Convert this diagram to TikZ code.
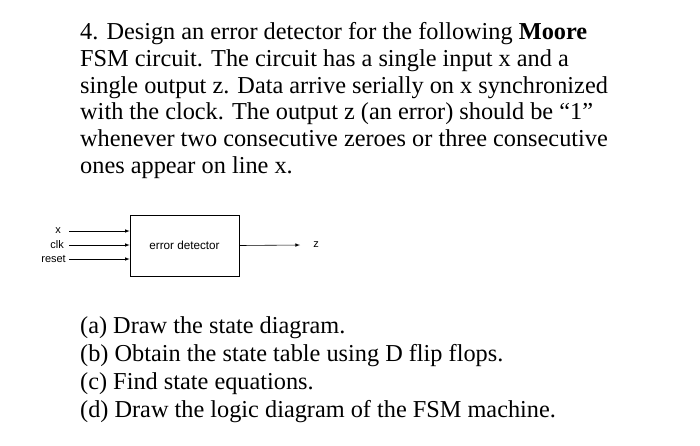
\documentclass[tikz,border=0pt]{standalone}
\usepackage{fontspec}
\setmainfont{Liberation Serif}
\newfontfamily\sans{Liberation Sans}
\begin{document}
\begin{tikzpicture}[x=1pt,y=-1pt,
  para/.style={anchor=base west,inner sep=0pt,font=\fontsize{24.3}{28}\selectfont},
  lab/.style={font=\sans\fontsize{11}{13}\selectfont,inner sep=0pt},
  sig/.style={-latex,line width=0.6pt}]
\useasboundingbox (0,0) rectangle (700,445);
\node[para] (l1) at (80,39) {4. Design an error detector for the following \textbf{Moore}};
\node[para] (l2) at (80,66) {FSM circuit. The circuit has a single input x and a};
\node[para] (l3) at (80,93) {single output z. Data arrive serially on x synchronized};
\node[para] (l4) at (80,119) {with the clock. The output z (an error) should be “1”};
\node[para] (l5) at (80,146) {whenever two consecutive zeroes or three consecutive};
\node[para] (l6) at (80,173) {ones appear on line x.};
\node[draw,line width=0.6pt,minimum width=109pt,minimum height=61pt,inner sep=0pt,font=\sans\fontsize{11.7}{13}\selectfont] (box) at (184.5,245.5) {error detector};
\coordinate (ix) at (69,231); \coordinate (ic) at (69,245); \coordinate (ir) at (69,259);
\node[lab,anchor=east] (tx) at (61,231) {x};
\node[lab,anchor=east] (tc) at (64,245) {clk};
\node[lab,anchor=east] (tr) at (66,259) {reset};
\draw[sig] (ix) -- (ix -| box.west);
\draw[sig] (ic) -- (ic -| box.west);
\draw[sig] (ir) -- (ir -| box.west);
\node[lab] (z) at (316,245) {z};
\coordinate (zo) at (300,245);
\draw[sig] (box.east) -- (zo);
\node[para] (a) at (80,333) {(a) Draw the state diagram.};
\node[para] (b) at (80,361) {(b) Obtain the state table using D flip flops.};
\node[para] (c) at (80,389) {(c) Find state equations.};
\node[para] (d) at (80,417) {(d) Draw the logic diagram of the FSM machine.};
\end{tikzpicture}
\end{document}
